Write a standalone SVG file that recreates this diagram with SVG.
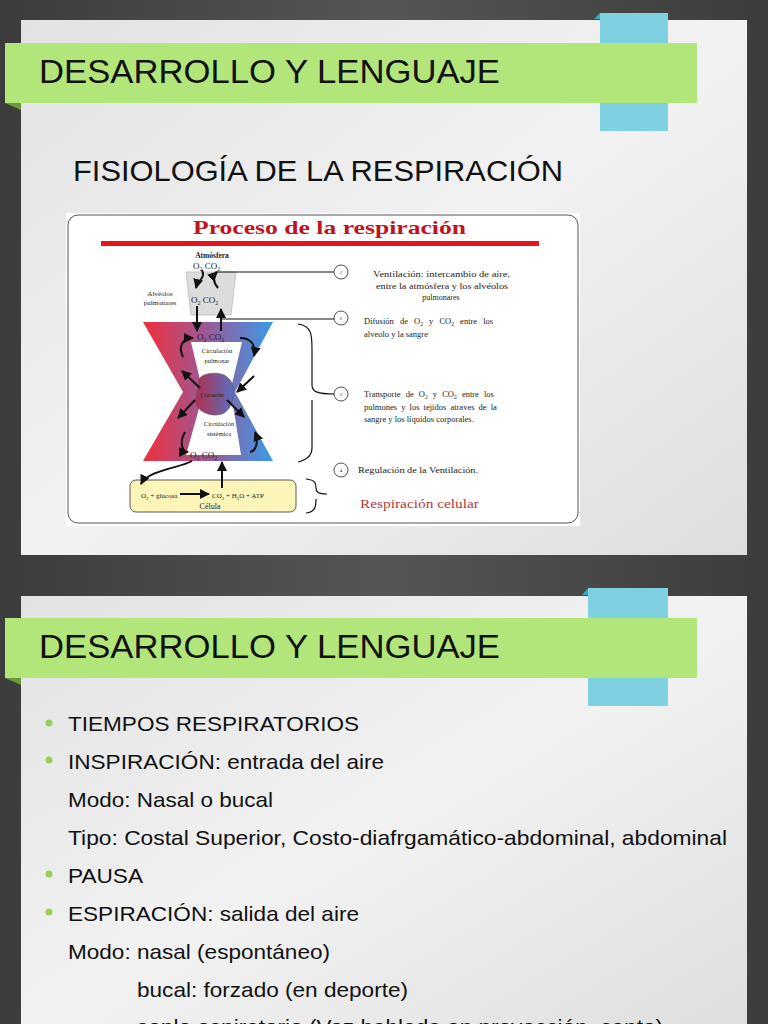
<svg xmlns="http://www.w3.org/2000/svg" width="768" height="1024" viewBox="0 0 768 1024">
<defs>
<linearGradient id="bg" x1="0" y1="0" x2="1" y2="0"><stop offset="0" stop-color="#3c3c3c"/><stop offset="0.5" stop-color="#555"/><stop offset="1" stop-color="#3c3c3c"/></linearGradient>
<linearGradient id="slide" x1="0" y1="0" x2="1" y2="1"><stop offset="0" stop-color="#e2e2e2"/><stop offset="0.5" stop-color="#f2f2f2"/><stop offset="1" stop-color="#dedede"/></linearGradient>
<linearGradient id="hg" x1="0" y1="0" x2="1" y2="0"><stop offset="0" stop-color="#f0303a"/><stop offset="0.5" stop-color="#9a5a9a"/><stop offset="1" stop-color="#3a9ae8"/></linearGradient>
<linearGradient id="heart" x1="0" y1="0" x2="1" y2="0"><stop offset="0" stop-color="#b03050"/><stop offset="1" stop-color="#5a70c0"/></linearGradient>
<marker id="ah" viewBox="0 0 10 10" refX="9" refY="5" markerWidth="5" markerHeight="5" orient="auto"><path d="M0,0L10,5L0,10z" fill="#111"/></marker>
<style>
.t{font-family:"Liberation Sans",Arial,sans-serif;fill:#111}
.s{font-family:"Liberation Serif","Times New Roman",serif;fill:#222}
.ban{fill:#b2e57a}
.tab{fill:#7fd0e0}
.ln{stroke:#111;stroke-width:1.2;fill:none}
.ar{stroke:#111;stroke-width:2;fill:none;marker-end:url(#ah)}
.bul{fill:#9ccc5a}
</style>
</defs>
<rect width="768" height="1024" fill="url(#bg)"/>
<g id="slide1">
<rect x="21" y="20" width="726" height="535" fill="url(#slide)"/>
<rect class="tab" x="600" y="13" width="68" height="118"/>
<path d="M594,19 L600,13 L600,19z" fill="#3aa8c0"/>
<path d="M5,103 L21,103 L21,110z" fill="#6a9a3a"/>
<rect class="ban" x="5" y="43" width="692" height="60"/>
<text class="t" x="39" y="83" font-size="33" textLength="461" lengthAdjust="spacingAndGlyphs">DESARROLLO Y LENGUAJE</text>
<text class="t" x="73" y="181" font-size="29" textLength="490" lengthAdjust="spacingAndGlyphs">FISIOLOGÍA DE LA RESPIRACIÓN</text>
</g>
<g id="figure">
<rect x="66" y="213" width="514" height="313" fill="#fff"/>
<rect x="68" y="215" width="510" height="308" rx="10" fill="none" stroke="#555" stroke-width="1"/>
<text class="s" x="193" y="234" font-size="19" font-weight="bold" textLength="273" lengthAdjust="spacingAndGlyphs" style="fill:#c0141c">Proceso de la respiración</text>
<rect x="101" y="241" width="438" height="5" fill="#e8141c"/>
<text class="s" x="212" y="258" font-size="7.5" font-weight="bold" text-anchor="middle">Atmósfera</text>
<path d="M186,272 L236,272 L231,315 L191,315z" fill="#dcdcdc" stroke="#bbb" stroke-width="0.8"/>
<text class="s" x="193" y="269" font-size="9">O<tspan font-size="6" dy="2">2</tspan><tspan dy="-2"> CO</tspan><tspan font-size="6" dy="2">2</tspan></text>
<text class="s" x="160" y="296" font-size="7" text-anchor="middle">Alvéolos</text>
<text class="s" x="160" y="305" font-size="7" text-anchor="middle">pulmonares</text>
<text class="s" x="191" y="303" font-size="9">O<tspan font-size="6" dy="2">2</tspan><tspan dy="-2">   CO</tspan><tspan font-size="6" dy="2">2</tspan></text>
<path d="M143,322 L273,322 L235,392 L273,461 L143,461 L183,392z" fill="url(#hg)"/>
<path d="M191,342 L242,342 L232,384 L201,384z" fill="#fff"/>
<path d="M200,405 L233,405 L241,455 L186,455z" fill="#fff"/>
<path d="M199,384 C195,372 222,370 228,378 C238,385 234,410 222,414 C210,418 193,410 196,398z" fill="url(#heart)" stroke="#555" stroke-width="0.6"/>
<text class="s" x="212" y="397" font-size="7" text-anchor="middle">Corazón</text>
<text class="s" x="217" y="353" font-size="6.5" text-anchor="middle">Circulación</text>
<text class="s" x="217" y="363" font-size="6.5" text-anchor="middle">pulmonar</text>
<text class="s" x="219" y="426" font-size="6.5" text-anchor="middle">Circulación</text>
<text class="s" x="219" y="436" font-size="6.5" text-anchor="middle">sistémica</text>
<text class="s" x="197" y="340" font-size="9">O<tspan font-size="6" dy="2">2</tspan><tspan dy="-2">  CO</tspan><tspan font-size="6" dy="2">2</tspan></text>
<text class="s" x="190" y="458" font-size="9">O<tspan font-size="6" dy="2">2</tspan><tspan dy="-2">    CO</tspan><tspan font-size="6" dy="2">2</tspan></text>
<rect x="130" y="480" width="166" height="32" rx="6" fill="#fbf6b8" stroke="#333" stroke-width="0.8"/>
<text class="s" x="141" y="498" font-size="7">O<tspan font-size="5" dy="2">2</tspan><tspan dy="-2"> + glucosa</tspan></text>
<text class="s" x="212" y="498" font-size="7">CO<tspan font-size="5" dy="2">2</tspan><tspan dy="-2"> + H</tspan><tspan font-size="5" dy="2">2</tspan><tspan dy="-2">O + ATP</tspan></text>
<text class="s" x="210" y="509" font-size="8" text-anchor="middle">Célula</text>
<text class="s" x="373" y="277" font-size="8" textLength="137" lengthAdjust="spacingAndGlyphs">Ventilación: intercambio de aire,</text>
<text class="s" x="376" y="289" font-size="8" textLength="132" lengthAdjust="spacingAndGlyphs">entre la atmósfera y los alvéolos</text>
<text class="s" x="441" y="300" font-size="8" text-anchor="middle">pulmonares</text>
<text class="s" x="364" y="324" font-size="8.5" word-spacing="4">Difusión de O<tspan font-size="5.5" dy="2">2</tspan><tspan dy="-2"> y CO</tspan><tspan font-size="5.5" dy="2">2</tspan><tspan dy="-2"> entre los</tspan></text>
<text class="s" x="364" y="337" font-size="8.5">alveolo y la sangre</text>
<text class="s" x="364" y="397" font-size="8.5" word-spacing="3">Transporte de O<tspan font-size="5.5" dy="2">2</tspan><tspan dy="-2"> y CO</tspan><tspan font-size="5.5" dy="2">2</tspan><tspan dy="-2"> entre los</tspan></text>
<text class="s" x="364" y="410" font-size="8.5" word-spacing="2">pulmones y los tejidos  atraves de la</text>
<text class="s" x="364" y="422" font-size="8.5">sangre y los líquidos corporales.</text>
<text class="s" x="358" y="473" font-size="8" textLength="120" lengthAdjust="spacingAndGlyphs">Regulación de la Ventilación.</text>
<text class="s" x="360" y="508" font-size="12" textLength="119" lengthAdjust="spacingAndGlyphs" style="fill:#b03a3a">Respiración celular</text>
<circle cx="341" cy="272" r="7" fill="#fff" stroke="#222" stroke-width="0.8"/><text class="s" x="341" y="274" font-size="5" text-anchor="middle">1</text>
<circle cx="341" cy="318" r="7" fill="#fff" stroke="#222" stroke-width="0.8"/><text class="s" x="341" y="320" font-size="5" text-anchor="middle">2</text>
<circle cx="341" cy="394" r="7" fill="#fff" stroke="#222" stroke-width="0.8"/><text class="s" x="341" y="396" font-size="5" text-anchor="middle">3</text>
<circle cx="341" cy="470" r="7" fill="#fff" stroke="#222" stroke-width="0.8"/><text class="s" x="341" y="472" font-size="5" text-anchor="middle">4</text>
</g>
<g id="connectors">
<path class="ln" d="M215,272 L334,272"/>
<path class="ln" d="M222,319 L334,319"/>
<path class="ln" d="M298,324 C312,326 312,335 312,350 L312,385 C312,392 318,394 334,394 M312,400 L312,448 C312,456 306,460 298,462"/>
<path class="ln" d="M306,479 C316,480 316,484 316,488 C316,492 318,494 327,494 M316,499 C316,505 316,512 306,513"/>
<path class="ar" d="M202,270 C206,278 198,280 196,288"/>
<path class="ar" d="M218,288 C213,282 212,277 217,272"/>
<path class="ar" d="M197,306 L197,331"/>
<path class="ar" d="M221,331 L221,309"/>
<path class="ar" d="M183,357 C178,347 182,338 193,338"/>
<path class="ar" d="M240,338 C252,338 256,346 254,356"/>
<path class="ar" d="M254,376 L237,392"/>
<path class="ar" d="M200,388 L182,371"/>
<path class="ar" d="M195,400 L178,418"/>
<path class="ar" d="M227,400 L244,417"/>
<path class="ar" d="M185,432 C179,442 182,452 188,452"/>
<path class="ar" d="M250,452 C256,451 259,442 255,432"/>
<path class="ar" d="M192,461 C180,468 148,470 141,484"/>
<path class="ar" d="M222,488 L222,462"/>
<path class="ar" d="M180,494 L209,494"/>
</g>
<g id="slide2">
<rect x="21" y="596" width="726" height="440" fill="url(#slide)"/>
<rect class="tab" x="588" y="588" width="80" height="118"/>
<path d="M582,595 L588,588 L588,595z" fill="#3aa8c0"/>
<path d="M5,678 L21,678 L21,685z" fill="#6a9a3a"/>
<rect class="ban" x="5" y="618" width="692" height="60"/>
<text class="t" x="39" y="658" font-size="33" textLength="461" lengthAdjust="spacingAndGlyphs">DESARROLLO Y LENGUAJE</text>
<g font-size="21">
<circle class="bul" cx="49" cy="723" r="3.5"/><text class="t" x="68" y="731" textLength="291" lengthAdjust="spacingAndGlyphs">TIEMPOS RESPIRATORIOS</text>
<circle class="bul" cx="49" cy="760" r="3.5"/><text class="t" x="68" y="769" textLength="316" lengthAdjust="spacingAndGlyphs">INSPIRACIÓN: entrada del aire</text>
<text class="t" x="68" y="807" textLength="205" lengthAdjust="spacingAndGlyphs">Modo: Nasal o bucal</text>
<text class="t" x="68" y="845" textLength="659" lengthAdjust="spacingAndGlyphs">Tipo: Costal Superior,  Costo-diafrgamático-abdominal, abdominal</text>
<circle class="bul" cx="49" cy="874" r="3.5"/><text class="t" x="68" y="883" textLength="75" lengthAdjust="spacingAndGlyphs">PAUSA</text>
<circle class="bul" cx="49" cy="912" r="3.5"/><text class="t" x="68" y="921" textLength="291" lengthAdjust="spacingAndGlyphs">ESPIRACIÓN: salida del aire</text>
<text class="t" x="68" y="959" textLength="262" lengthAdjust="spacingAndGlyphs">Modo: nasal (espontáneo)</text>
<text class="t" x="137" y="997" textLength="271" lengthAdjust="spacingAndGlyphs">bucal: forzado (en deporte)</text>
<text class="t" x="137" y="1034" textLength="526" lengthAdjust="spacingAndGlyphs">soplo espiratorio (Voz hablada en proyección, canto)</text>
</g>
</g>
</svg>
